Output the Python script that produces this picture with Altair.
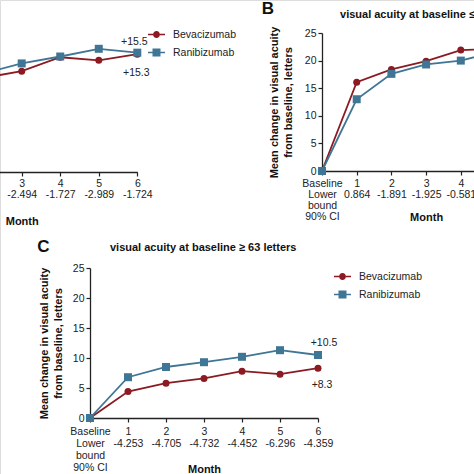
import altair as alt
import pandas as pd

# ---------------- data ----------------
months = [0, 1, 2, 3, 4, 5, 6]
series = ["Bevacizumab", "Ranibizumab"]

a_bev = [0.0, 9.5, 12.2, 13.1, 14.9, 14.5, 15.3]
a_ran = [0.0, 10.0, 12.8, 14.1, 15.0, 16.0, 15.5]
a_lower = [None, None, None, "-2.494", "-1.727", "-2.989", "-1.724"]

b_bev = [0.0, 16.1, 18.4, 19.9, 21.9, 22.1, 22.3]
b_ran = [0.0, 13.0, 17.6, 19.3, 20.0, 21.6, 21.8]
b_lower = [None, "0.864", "-1.891", "-1.925", "-0.581", None, None]

c_bev = [0.0, 4.4, 5.8, 6.6, 7.8, 7.3, 8.3]
c_ran = [0.0, 6.8, 8.5, 9.3, 10.2, 11.3, 10.5]
c_lower = [None, "-4.253", "-4.705", "-4.732", "-4.452", "-6.296", "-4.359"]

baseline_label = ["Baseline", "Lower", "bound", "90% CI"]
y_ticks = [0, 5, 10, 15, 20, 25]
y_title = ["Mean change in visual acuity", "from baseline, letters"]
title_b = "visual acuity at baseline \u2264 62 letters"
title_c = "visual acuity at baseline \u2265 63 letters"

# ---------------- style ----------------
FONT = "Liberation Sans"
COLORS = ["#8B1A22", "#3F7595"]
INK = "#222222"
CIRC_PATH = ("M-1,-0.1H-0.41V0.1H-1Z M0.41,-0.1H1V0.1H0.41Z "
             "M0.41,0A0.41,0.41 0 1,1 -0.41,0A0.41,0.41 0 1,1 0.41,0Z")
SQ_PATH = ("M-1,-0.1H-0.47V0.1H-1Z M0.47,-0.1H1V0.1H0.47Z "
           "M-0.47,-0.47H0.47V0.47H-0.47Z")


def label_expr(lower, shown):
    expr = "''"
    for m, lb in reversed(list(zip(months, lower))):
        if m not in shown:
            continue
        if m == 0:
            lines = baseline_label
        elif lb is None:
            lines = [str(m)]
        else:
            lines = [str(m), lb]
        arr = "[" + ",".join("'" + s + "'" for s in lines) + "]"
        expr = f"datum.value == {m} ? {arr} : {expr}"
    return expr


def make_panel(bev, ran, lower, xr, yd, yr, lab, legend_pos=None, texts=None):
    df = pd.DataFrame({
        "month": months * 2,
        "value": bev + ran,
        "drug": [series[0]] * len(months) + [series[1]] * len(months),
    })
    xs = alt.Scale(domain=[0, 6], range=xr, nice=False, zero=False)
    ys = alt.Scale(domain=yd, range=yr, nice=False, zero=False)
    axis_y_pos = yr[0]
    x_axis = alt.Axis(
        orient="bottom", offset=axis_y_pos - 474, values=months,
        labelExpr=label_expr(lower, lab["shown"]), labelLineHeight=lab["lh"],
        labelFont=FONT, labelFontSize=10.5, labelColor=INK,
        labelOverlap=False, labelFlush=False, labelPadding=lab["lp"],
        tickSize=4, tickColor=INK, tickWidth=1.2,
        domainColor=INK, domainWidth=1.3, grid=False,
        title="Month", titleFont=FONT, titleFontSize=11, titleFontWeight="bold",
        titleColor="#111111", titleY=lab["ty"], titleBaseline="middle",
    )
    if lab.get("yaxis", True):
        y_axis = alt.Axis(
            orient="left", offset=-xr[0], values=y_ticks, format="d",
            labelFont=FONT, labelFontSize=10.5, labelColor=INK, labelPadding=2,
            tickSize=4, tickColor=INK, tickWidth=1.2,
            domainColor=INK, domainWidth=1.3, grid=False,
            title=y_title, titleFont=FONT, titleFontSize=11, titleFontWeight="bold",
            titleColor="#111111", titleLineHeight=14, titleX=lab["tx"],
            titleBaseline="middle",
        )
    else:
        y_axis = None

    color = alt.Color("drug:N", scale=alt.Scale(domain=series, range=COLORS), legend=None)
    layers = []
    layers.append(
        alt.Chart(df).mark_line(strokeWidth=1.8).encode(
            x=alt.X("month:Q", scale=xs, axis=x_axis),
            y=alt.Y("value:Q", scale=ys, axis=y_axis),
            color=color,
            detail="drug:N",
        )
    )
    for name, shp, size in [(series[0], "circle", 49), (series[1], "square", 64)]:
        layers.append(
            alt.Chart(df).transform_filter(alt.datum.drug == name)
            .mark_point(filled=True, opacity=1, shape=shp, size=size)
            .encode(
                x=alt.X("month:Q", scale=xs, axis=None),
                y=alt.Y("value:Q", scale=ys, axis=None),
                color=color,
            )
        )
    if "ann" in lab:
        for vals, (dx, dy) in zip([bev, ran], lab["ann"]):
            adf = pd.DataFrame({"month": [months[-1]], "value": [vals[-1]],
                                "txt": [f"+{vals[-1]:.1f}"]})
            layers.append(
                alt.Chart(adf).mark_text(font=FONT, fontSize=10.5, color=INK,
                                         dx=dx, dy=dy, align="center", baseline="middle")
                .encode(
                    x=alt.X("month:Q", scale=xs, axis=None),
                    y=alt.Y("value:Q", scale=ys, axis=None),
                    text="txt:N",
                )
            )
    if texts:
        for (txt, mx, my, size, align) in texts:
            tdf = pd.DataFrame({"month": [mx], "value": [my], "txt": [txt]})
            layers.append(
                alt.Chart(tdf).mark_text(font=FONT, fontSize=size, fontWeight="bold",
                                         color="#111111", align=align, baseline="middle")
                .encode(
                    x=alt.X("month:Q", scale=xs, axis=None),
                    y=alt.Y("value:Q", scale=ys, axis=None),
                    text="txt:N",
                )
            )
    if legend_pos:
        leg = alt.Legend(
            orient="none", legendX=legend_pos[0], legendY=legend_pos[1], title=None,
            direction="vertical", labelFont=FONT, labelFontSize=10.5, labelColor=INK,
            symbolSize=289, labelOffset=8, rowPadding=lab.get("rp", 3), padding=0, offset=0,
            symbolStrokeWidth=0,
        )
        layers.append(
            alt.Chart(df).transform_filter("false")
            .mark_point(filled=True, opacity=1)
            .encode(
                color=alt.Color("drug:N", scale=alt.Scale(domain=series, range=COLORS), legend=leg),
                shape=alt.Shape("drug:N", scale=alt.Scale(domain=series, range=[CIRC_PATH, SQ_PATH]),
                                legend=leg),
            )
        )
    return layers


layers = []
# Panel A (only its right part lies inside the picture)
layers += make_panel(
    a_bev, a_ran, a_lower, [-93.9, 137.3], [0, 20], [172, 18],
    {"lh": 10.5, "lp": 2.5, "ty": 49, "yaxis": False, "ann": [(-1, 19), (-3, -11)],
     "shown": [3, 4, 5, 6], "rp": 4},
    legend_pos=(148, 26),
)
# Panel B (its left part lies inside the picture)
layers += make_panel(
    b_bev, b_ran, b_lower, [322, 530.2], [0, 25], [171, 33],
    {"lh": 11.3, "lp": 3, "ty": 46.5, "tx": -48, "shown": [0, 1, 2, 3, 4]},
    texts=[("B", -1.556, 29.35, 17, "center"), (title_b, 0.519, 28.26, 11, "left")],
)
# Panel C
layers += make_panel(
    c_bev, c_ran, c_lower, [90, 318], [0, 25], [418, 268],
    {"lh": 12, "lp": 4.5, "ty": 51, "tx": -46, "ann": [(4, 17), (6, -12)],
     "shown": months, "rp": 4},
    legend_pos=(334, 268),
    texts=[("C", -1.224, 28.42, 17, "center"), (title_c, 0.526, 28.33, 11, "left")],
)

chart = (
    alt.layer(*layers)
    .resolve_scale(x="independent", y="independent", color="independent", shape="independent")
    .properties(width=474, height=474, autosize=alt.AutoSizeParams(type="none"), padding=0)
    .configure_view(stroke=None)
    .configure(background="white")
)

chart.save("out.html", embed_options={"renderer": "svg", "actions": False})
